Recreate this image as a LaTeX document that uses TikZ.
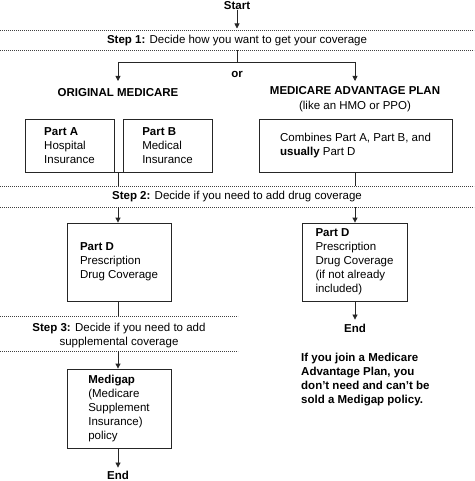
\documentclass[tikz,border=0pt]{standalone}
\usepackage{fontspec}
\setmainfont{Liberation Sans}
\usetikzlibrary{arrows.meta}

\tikzset{
  box/.style={draw=black!85, line width=0.8pt, align=left, inner sep=0pt},
  sepline/.style={black!75, line width=0.6pt, dash pattern=on 1.2pt off 0.8pt},
  conn/.style={black!85, line width=0.8pt},
  arr/.style={conn, -{Triangle[length=5pt,width=5pt]}},
  lbl/.style={inner sep=0pt, align=center}
}

\begin{document}
\begin{tikzpicture}[x=1pt,y=-1pt,font=\fontsize{11.5}{14}\selectfont]
    \useasboundingbox (0,0) rectangle (474,481);

    % dashed step bands
    \foreach \y in {30,50,186,207}{
      \draw [sepline] (0,\y) -- (474,\y);
    }
    \foreach \y in {316,351}{
      \draw [sepline] (0,\y) -- (238,\y);
    }

    % labels
    \node [lbl] (start) at (237,5.5) {\textbf{Start}};
    \node [lbl] (step1) at (237,40.5) {\textbf{Step 1:} Decide how you want to get your coverage};
    \node [lbl] (or) at (237,74) {\textbf{or}};
    \node [lbl] (orig) at (118,93) {\textbf{ORIGINAL MEDICARE}};
    \node [lbl] (adv) at (355,99.5) {\textbf{MEDICARE ADVANTAGE PLAN}\\[1pt](like an HMO or PPO)};
    \node [lbl] (step2) at (237,196.5) {\textbf{Step 2:} Decide if you need to add drug coverage};
    \node [lbl] (step3) at (119,336) {\textbf{Step 3:} Decide if you need to add\\supplemental coverage};
    \node [lbl] (endR) at (355,328) {\textbf{End}};
    \node [lbl] (endL) at (118,475) {\textbf{End}};
    \node [inner sep=0pt, align=left, anchor=north west] (note) at (301,352.5)
      {\textbf{If you join a Medicare}\\\textbf{Advantage Plan, you}\\\textbf{don't need and can't be}\\\textbf{sold a Medigap policy.}};

    % boxes
    \node [box, minimum width=89, minimum height=53] (partA) at (69.5,145.5)
      {\textbf{Part A}\\Hospital\\Insurance};
    \node [box, minimum width=89, minimum height=53] (partB) at (167.5,145.5)
      {\textbf{Part B}\\Medical\\Insurance};
    \node [box, minimum width=193, minimum height=53] (mapbox) at (355.5,145.5)
      {Combines Part A, Part B, and\\\textbf{usually} Part D};
    \node [box, minimum width=104, minimum height=78] (partDL) at (119,262)
      {\textbf{Part D}\\Prescription\\Drug Coverage};
    \node [box, minimum width=105, minimum height=78] (partDR) at (354.5,262)
      {\textbf{Part D}\\Prescription\\Drug Coverage\\(if not already\\included)};
    \node [box, minimum width=104, minimum height=79] (medigap) at (119,408.5)
      {\textbf{Medigap}\\(Medicare\\Supplement\\Insurance)\\policy};

    % connector points
    \coordinate (s1in) at (237,28.5);
    \coordinate (s1out) at (237,50);
    \coordinate (fork) at (237,62);
    \coordinate (forkL) at (118,62);
    \coordinate (forkR) at (355,62);
    \coordinate (origIn) at (118,81);
    \coordinate (advIn) at (355,81);
    \coordinate (abjoin) at (118,172);
    \coordinate (s2inL) at (118,186);
    \coordinate (s2inR) at (355,186);
    \coordinate (s2outL) at (118,207);
    \coordinate (s2outR) at (355,207);
    \coordinate (s3in) at (118,316);
    \coordinate (s3out) at (118,351);

    % connectors
    \draw [arr] (start) -- (s1in);
    \draw [conn] (s1out) -- (fork);
    \draw [conn] (forkL) -- (forkR);
    \draw [arr] (forkL) -- (origIn);
    \draw [arr] (forkR) -- (advIn);
    \draw [conn] (partA.south east) -- (partB.south west);
    \draw [conn] (abjoin) -- (s2inL);
    \draw [conn] (mapbox.south -| s2inR) -- (s2inR);
    \draw [arr] (s2outL) -- (s2outL |- partDL.north);
    \draw [arr] (s2outR) -- (s2outR |- partDR.north);
    \draw [conn] (partDL.south -| s3in) -- (s3in);
    \draw [arr] (s3out) -- (s3out |- medigap.north);
    \draw [arr, shorten >=4pt] (partDR.south -| endR) -- (endR.north);
    \draw [arr, shorten >=3pt] (medigap.south -| endL) -- (endL.north);
\end{tikzpicture}
\end{document}
